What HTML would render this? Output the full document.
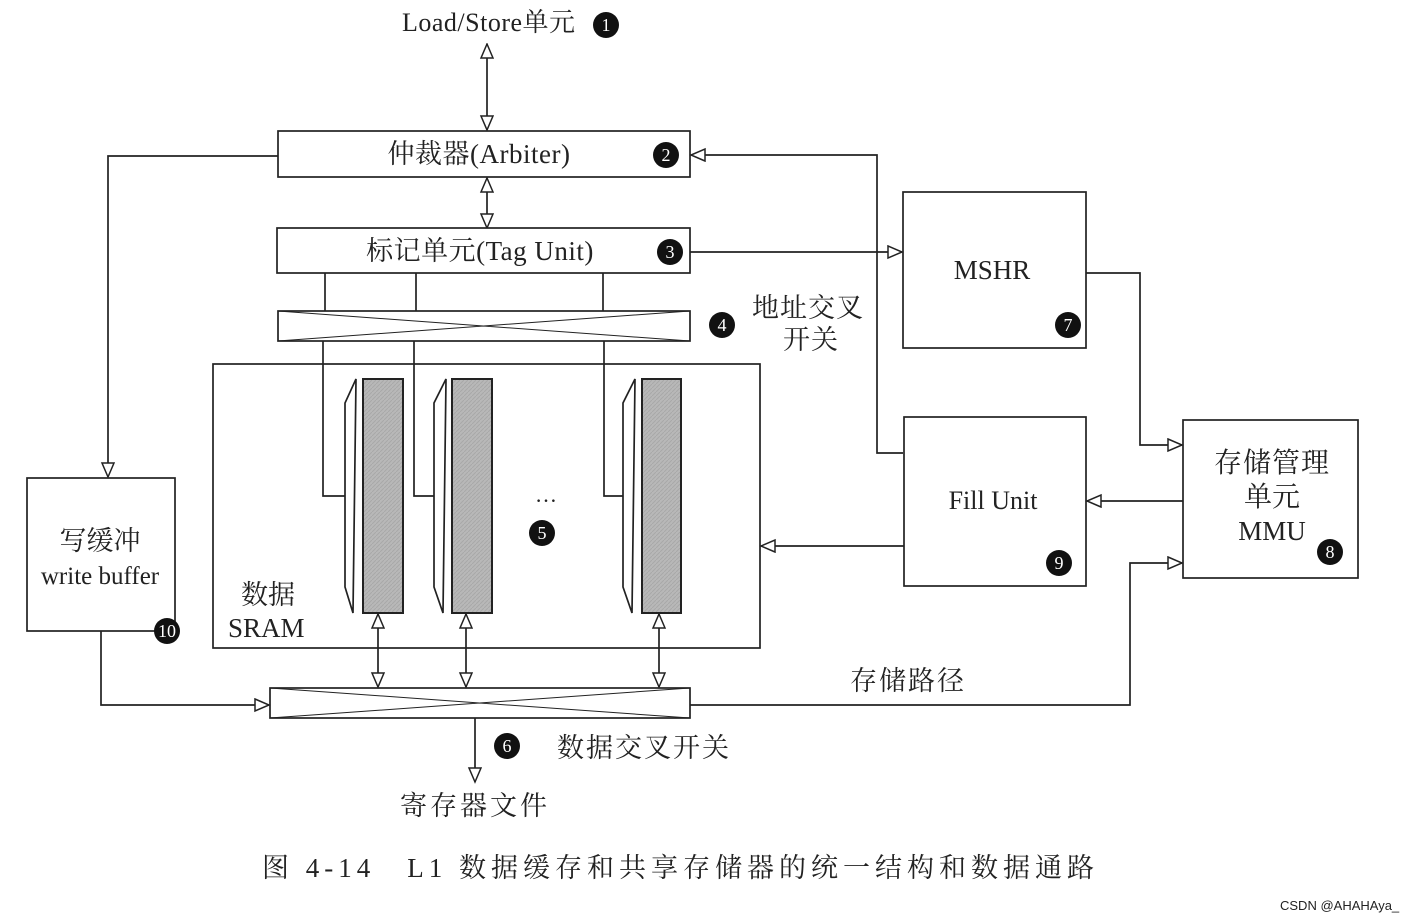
<!DOCTYPE html>
<html><head><meta charset="utf-8"><style>
html,body{margin:0;padding:0;background:#fff;}
svg{display:block;}
text{font-family:"Liberation Serif","Noto Serif CJK SC",serif;fill:#222;}
.c{fill:#111;}
.cn{fill:#fff;font-size:18px;text-anchor:middle;letter-spacing:0;}
</style></head><body>
<svg width="1410" height="921" viewBox="0 0 1410 921" xmlns="http://www.w3.org/2000/svg">
<defs>
<marker id="a" markerWidth="18" markerHeight="16" refX="15" refY="7" orient="auto" markerUnits="userSpaceOnUse">
<path d="M1,1 L15,7 L1,13 Z" fill="#fff" stroke="#222" stroke-width="1.5"/></marker>
<marker id="s" markerWidth="18" markerHeight="16" refX="1" refY="7" orient="auto" markerUnits="userSpaceOnUse">
<path d="M15,1 L1,7 L15,13 Z" fill="#fff" stroke="#222" stroke-width="1.5"/></marker>
<pattern id="g" width="4" height="4" patternUnits="userSpaceOnUse"><rect width="4" height="4" fill="#b8b8b8"/><path d="M0,4 L4,0" stroke="#a8a8a8" stroke-width="1"/></pattern>
</defs>
<g stroke="#222" stroke-width="1.7" fill="none">
<line x1="487" y1="44" x2="487" y2="130" marker-start="url(#s)" marker-end="url(#a)"/>
<rect x="278" y="131" width="412" height="46" fill="#fff"/>
<line x1="487" y1="178" x2="487" y2="228" marker-start="url(#s)" marker-end="url(#a)"/>
<rect x="277" y="228" width="413" height="45" fill="#fff"/>
<line x1="325" y1="273" x2="325" y2="311"/><line x1="416" y1="273" x2="416" y2="311"/><line x1="603" y1="273" x2="603" y2="311"/>
<rect x="278" y="311" width="412" height="30"/>
<path d="M278,311 L690,341 M278,341 L690,311" stroke-width="1"/>
<rect x="213" y="364" width="547" height="284"/>
<path d="M323,341 V496 H345 M414,341 V496 H434 M604,341 V496 H623"/>
<polygon points="356,379 345,403 345,587 353,613" fill="#fff"/>
<polygon points="446,379 434,403 434,587 443,613" fill="#fff"/>
<polygon points="635,379 623,403 623,587 632,613" fill="#fff"/>
<rect x="363" y="379" width="40" height="234" fill="url(#g)" stroke-width="2"/>
<rect x="452" y="379" width="40" height="234" fill="url(#g)" stroke-width="2"/>
<rect x="642" y="379" width="39" height="234" fill="url(#g)" stroke-width="2"/>
<line x1="378" y1="614" x2="378" y2="687" marker-start="url(#s)" marker-end="url(#a)"/>
<line x1="466" y1="614" x2="466" y2="687" marker-start="url(#s)" marker-end="url(#a)"/>
<line x1="659" y1="614" x2="659" y2="687" marker-start="url(#s)" marker-end="url(#a)"/>
<rect x="270" y="688" width="420" height="30"/>
<path d="M270,688 L690,718 M270,718 L690,688" stroke-width="1"/>
<line x1="475" y1="718" x2="475" y2="782" marker-end="url(#a)"/>
<rect x="27" y="478" width="148" height="153"/>
<path d="M278,156 H108 V477" marker-end="url(#a)"/>
<path d="M101,631 V705 H269" marker-end="url(#a)"/>
<rect x="903" y="192" width="183" height="156"/>
<line x1="690" y1="252" x2="902" y2="252" marker-end="url(#a)"/>
<path d="M903,453 H877 V155 H691" marker-end="url(#a)"/>
<rect x="904" y="417" width="182" height="169"/>
<line x1="904" y1="546" x2="761" y2="546" marker-end="url(#a)"/>
<rect x="1183" y="420" width="175" height="158"/>
<path d="M1086,273 H1140 V445 H1182" marker-end="url(#a)"/>
<line x1="1183" y1="501" x2="1087" y2="501" marker-end="url(#a)"/>
<path d="M690,705 H1130 V563 H1182" marker-end="url(#a)"/>
</g>
<text x="402" y="31" font-size="26" letter-spacing="0.5">Load/Store单元</text>
<circle class="c" cx="606" cy="25" r="13"/><text class="cn" x="606" y="31">1</text>
<text x="479" y="163" font-size="27" text-anchor="middle" letter-spacing="0.5">仲裁器(Arbiter)</text>
<circle class="c" cx="666" cy="155" r="13"/><text class="cn" x="666" y="161">2</text>
<text x="480" y="260" font-size="27" text-anchor="middle" letter-spacing="0.5">标记单元(Tag Unit)</text>
<circle class="c" cx="670" cy="252" r="13"/><text class="cn" x="670" y="258">3</text>
<circle class="c" cx="722" cy="325" r="13"/><text class="cn" x="722" y="331">4</text>
<text x="752" y="317" font-size="27" letter-spacing="1">地址交叉</text>
<text x="783" y="349" font-size="27" letter-spacing="1">开关</text>
<text x="535" y="502" font-size="22">…</text>
<circle class="c" cx="542" cy="533" r="13"/><text class="cn" x="542" y="539">5</text>
<text x="241" y="604" font-size="27">数据</text>
<text x="228" y="637" font-size="27">SRAM</text>
<circle class="c" cx="507" cy="746" r="13"/><text class="cn" x="507" y="752">6</text>
<text x="557" y="757" font-size="27" letter-spacing="2">数据交叉开关</text>
<text x="400" y="815" font-size="27" letter-spacing="3">寄存器文件</text>
<text x="100" y="550" font-size="27" text-anchor="middle">写缓冲</text>
<text x="100" y="584" font-size="25" text-anchor="middle">write buffer</text>
<circle class="c" cx="167" cy="631" r="13"/><text class="cn" x="167" y="637" font-size="15">10</text>
<text x="992" y="279" font-size="27" text-anchor="middle">MSHR</text>
<circle class="c" cx="1068" cy="325" r="13"/><text class="cn" x="1068" y="331">7</text>
<text x="993" y="509" font-size="26" text-anchor="middle">Fill Unit</text>
<circle class="c" cx="1059" cy="563" r="13"/><text class="cn" x="1059" y="569">9</text>
<text x="1272" y="472" font-size="28" text-anchor="middle" letter-spacing="1">存储管理</text>
<text x="1272" y="506" font-size="28" text-anchor="middle">单元</text>
<text x="1272" y="540" font-size="27" text-anchor="middle">MMU</text>
<circle class="c" cx="1330" cy="552" r="13"/><text class="cn" x="1330" y="558">8</text>
<text x="850" y="690" font-size="27" letter-spacing="2">存储路径</text>
<text x="262" y="877" font-size="27" fill="#333" letter-spacing="5">图 4-14　L1 数据缓存和共享存储器的统一结构和数据通路</text>
<text x="1280" y="910" font-size="13" style="font-family:'Liberation Sans',sans-serif" fill="#888">CSDN @AHAHAya_</text>
</svg>
</body></html>
